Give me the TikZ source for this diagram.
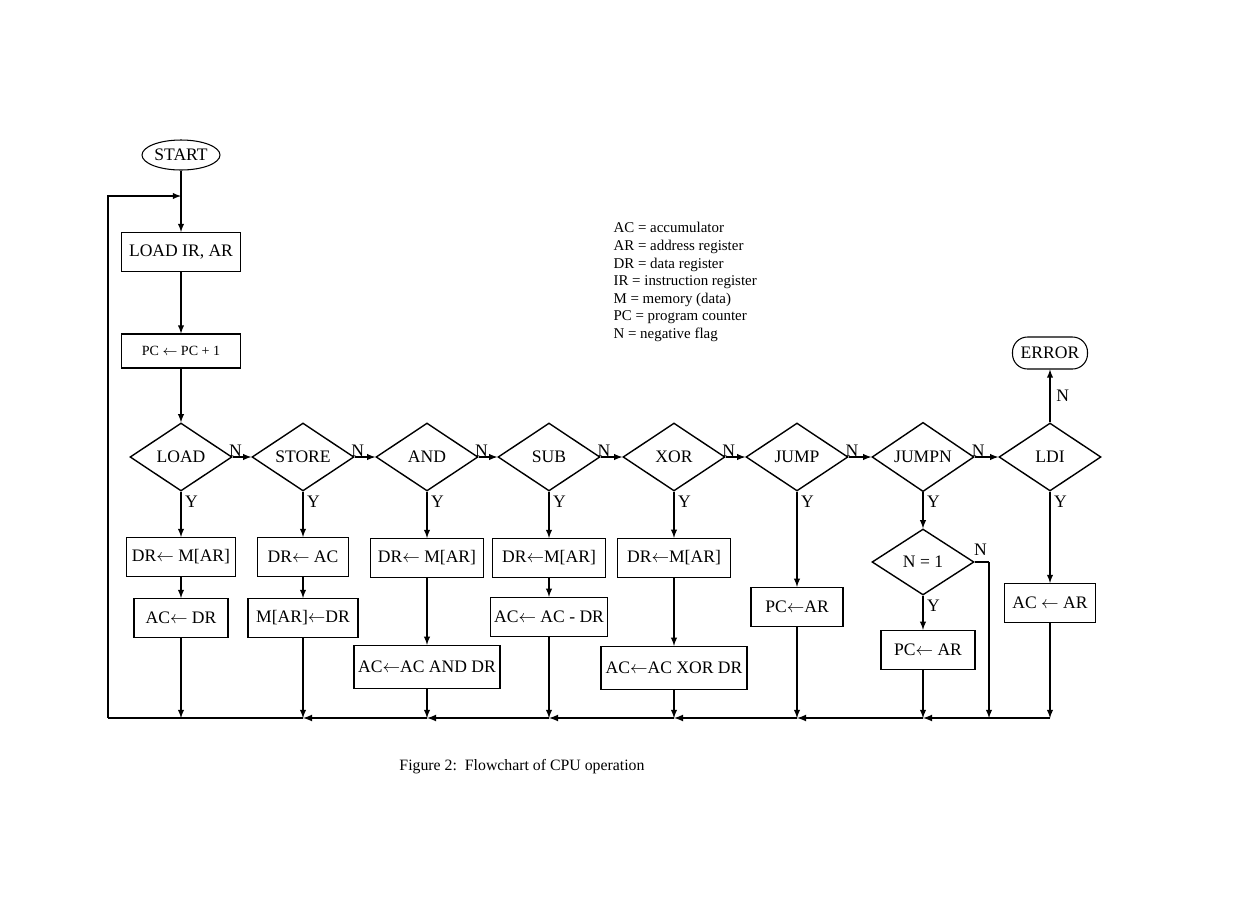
\documentclass[tikz,border=0pt]{standalone}
\usepackage{fontspec}
\setmainfont{Liberation Serif}
\usetikzlibrary{arrows, shapes.geometric}

\begin{document}
\begin{tikzpicture}[>=latex, x=0.02cm, y=-0.02cm, semithick,
                    font=\fontsize{10}{12}\selectfont]
\tikzstyle{box}=[draw, rectangle, minimum height=0.78cm, inner sep=2pt]
\tikzstyle{dec}=[draw, diamond, thick, minimum width=2.04cm, minimum height=1.36cm, inner sep=0pt]
\tikzstyle{term}=[draw, rounded corners=0.3cm, minimum width=1.5cm, minimum height=0.64cm]
\tikzstyle{lbl}=[font=\fontsize{10}{12}\selectfont]
\useasboundingbox (0,0) rectangle (1238,914);
  % top of the chart
  \node[draw, ellipse, minimum width=1.56cm, minimum height=0.6cm, inner sep=0pt] (start) at (181,155) {START};
  \node[box, minimum width=2.38cm] (ld) at (181,252) {LOAD IR, AR};
  \node[box, minimum width=2.38cm, minimum height=0.68cm, font=\fontsize{8}{10}\selectfont] (pc) at (181,351) {PC $\leftarrow$ PC + 1};
  \coordinate (loop) at (181,196);
  % decisions
  \node[dec] (load)  at (181,457) {LOAD};
  \node[dec] (store) at (303,457) {STORE};
  \node[dec] (and)   at (427,457) {AND};
  \node[dec] (sub)   at (549,457) {SUB};
  \node[dec] (xor)   at (674,457) {XOR};
  \node[dec] (jump)  at (797,457) {JUMP};
  \node[dec] (jumpn) at (923,457) {JUMPN};
  \node[dec] (ldi)   at (1050,457) {LDI};
  \node[term] (err) at (1050,353) {ERROR};
  % actions
  \node[box, minimum width=2.18cm] (l1) at (181,557) {DR$\leftarrow$ M[AR]};
  \node[box, minimum width=1.88cm] (l2) at (181,618) {AC$\leftarrow$ DR};
  \node[box, minimum width=1.82cm] (s1) at (303,557) {DR$\leftarrow$ AC};
  \node[box, minimum width=2.2cm]  (s2) at (303,618) {M[AR]$\leftarrow$DR};
  \node[box, minimum width=2.26cm] (a1) at (427,558) {DR$\leftarrow$ M[AR]};
  \node[box, thick, minimum width=2.92cm, minimum height=0.86cm] (a2) at (427,667) {AC$\leftarrow$AC AND DR};
  \node[box, minimum width=2.26cm] (u1) at (549,558) {DR$\leftarrow$M[AR]};
  \node[box, thick, minimum width=2.26cm] (u2) at (549,617) {AC$\leftarrow$ AC - DR};
  \node[box, thick, minimum width=2.26cm] (x1) at (674,558) {DR$\leftarrow$M[AR]};
  \node[box, thick, minimum width=2.92cm, minimum height=0.86cm] (x2) at (674,668) {AC$\leftarrow$AC XOR DR};
  \node[box, thick, minimum width=1.84cm] (j1) at (797,607) {PC$\leftarrow$AR};
  \node[dec, minimum width=2.04cm, minimum height=1.32cm] (neg) at (923,562) {N = 1};
  \node[box, thick, minimum width=1.88cm] (j2) at (928,650) {PC$\leftarrow$ AR};
  \node[box, minimum width=1.82cm] (i1) at (1050,603) {AC $\leftarrow$ AR};
  % bottom line
  \coordinate (b0) at (108,718);
  \coordinate (b1) at (181,718);
  \coordinate (b2) at (303,718);
  \coordinate (b3) at (427,718);
  \coordinate (b4) at (549,718);
  \coordinate (b5) at (674,718);
  \coordinate (b6) at (797,718);
  \coordinate (b7) at (923,718);
  \coordinate (b8) at (989,718);
  \coordinate (b9) at (1050,718);
  \coordinate (nr) at (989,562);
  % connectors
  \draw[->] (start) -- (ld);
  \draw[->] (ld) -- (pc);
  \draw[->] (pc) -- (load);
  \draw[->] (b0) |- (loop);
  \draw[thick] (b0) -- (b2);
  \foreach \a/\b in {load/store, store/and, and/sub, sub/xor, xor/jump, jump/jumpn, jumpn/ldi}
    \draw[->] (\a.east) -- node[lbl, above, inner sep=0pt, pos=0.15] {N} (\b.west);
  \draw[->] (ldi.north) -- node[lbl, right] {N} (err);
  \foreach \a/\b in {load/l1, store/s1, and/a1, sub/u1, xor/x1, jump/j1, jumpn/neg, ldi/i1}
    \draw[->] (\a.south) -- node[lbl, anchor=north west, pos=0, inner sep=2pt] {Y} (\b);
  \draw[->] (neg.south) -- node[lbl, anchor=north west, pos=0, inner sep=2pt] {Y} (j2.north -| neg.south);
  \draw (neg.east) -- node[lbl, above, pos=0.4] {N} (nr);
  \draw[->] (nr) -- (b8);
  \draw[->] (l1) -- (l2);
  \draw[->] (s1) -- (s2);
  \draw[->] (a1) -- (a2);
  \draw[->] (u1) -- (u2);
  \draw[->] (x1) -- (x2);
  \draw[->] (l2) -- (b1);
  \draw[->] (s2) -- (b2);
  \draw[->] (a2) -- (b3);
  \draw[->] (u2) -- (b4);
  \draw[->] (x2) -- (b5);
  \draw[->] (j1) -- (b6);
  \draw[->] (j2.south -| b7) -- (b7);
  \draw[->] (i1) -- (b9);
  \draw[thick, ->] (b9) -- (b7);
  \draw[thick, ->] (b7) -- (b6);
  \draw[thick, ->] (b6) -- (b5);
  \draw[thick, ->] (b5) -- (b4);
  \draw[thick, ->] (b4) -- (b3);
  \draw[thick, ->] (b3) -- (b2);
  % legend and caption
  \node[align=left, anchor=north west, inner sep=0pt, font=\fontsize{8.5}{10}\selectfont] (key) at (613,222)
    {AC = accumulator\\AR = address register\\DR = data register\\IR = instruction register\\
     M = memory (data)\\PC = program counter\\N = negative flag};
  \node[font=\fontsize{9}{11}\selectfont] (cap) at (522,767) {Figure 2:\ \ Flowchart of CPU operation};
\end{tikzpicture}
\end{document}
